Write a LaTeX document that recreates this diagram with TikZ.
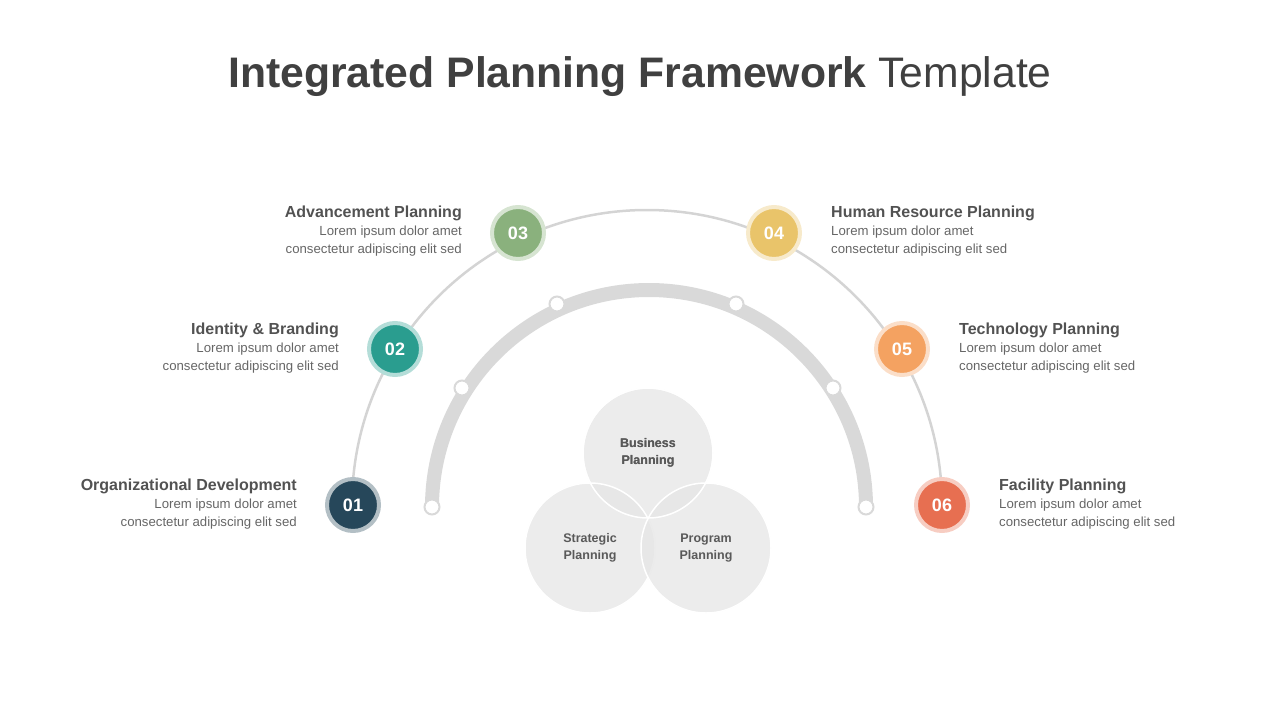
\documentclass[tikz,border=0pt]{standalone}
\usepackage{fontspec}
\setmainfont{Liberation Sans}
\begin{document}
\begin{tikzpicture}[x=1pt,y=-1pt,
 num/.style={circle,minimum size=52pt,inner sep=0pt,draw=#1!35!white,line width=4pt,fill=#1,text=white,font=\fontsize{18}{20}\selectfont\bfseries},
 ttl/.style={font=\fontsize{16}{18}\selectfont\bfseries,text=black!68,inner sep=0pt},
 bod/.style={font=\fontsize{13.2}{18}\selectfont,text=black!60,inner sep=0pt,align=#1},
 dot/.style={circle,minimum size=15pt,inner sep=0pt,fill=white,draw=black!15,line width=2pt},
 venn/.style={circle,minimum size=130pt,inner sep=0pt,fill=black!10,fill opacity=0.75,draw=white,line width=1.5pt,text opacity=1,text=black!65,font=\fontsize{12.5}{17}\selectfont\bfseries,align=center}]
\useasboundingbox (0,0) rectangle (1280,720);
\definecolor{c1}{HTML}{26475A}\definecolor{c2}{HTML}{2A9D8F}\definecolor{c3}{HTML}{8AB17D}
\definecolor{c4}{HTML}{E9C46A}\definecolor{c5}{HTML}{F4A261}\definecolor{c6}{HTML}{E76F51}
\node[font=\fontsize{42.7}{50}\selectfont,text=black!75] (title) at (640,77) {\textbf{Integrated Planning Framework} Template};
% outer arc
\draw[black!17,line width=2.5pt] (352,505) arc[start angle=180,end angle=360,radius=295];
% inner arc
\draw[black!15,line width=14pt,line cap=round] (432,507) arc[start angle=180,end angle=360,radius=217];
\foreach \n/\x/\y in {d1/432/507,d2/462/388,d3/557/304,d4/736/304,d5/833/388,d6/866/507}
 \node[dot] (\n) at (\x,\y) {};
% venn
\node[venn] (bus) at (648,453) {Business\\Planning};
\node[venn] (str) at (590,548) {Strategic\\Planning};
\node[venn] (pro) at (706,548) {Program\\Planning};
\node[venn,fill=none,draw=white] at (648,453) {Business\\Planning};
% numbers
\node[num=c1] (n1) at (353,505) {01};
\node[num=c2] (n2) at (395,349) {02};
\node[num=c3] (n3) at (518,233) {03};
\node[num=c4] (n4) at (774,233) {04};
\node[num=c5] (n5) at (902,349) {05};
\node[num=c6] (n6) at (942,505) {06};
% texts left
\node[ttl,anchor=east] (t1) at (297,486) {Organizational Development};
\node[bod=right,anchor=north east] (b1) at (297,499) {Lorem ipsum dolor amet\\consectetur adipiscing elit sed};
\node[ttl,anchor=east] (t2) at (339,330) {Identity \& Branding};
\node[bod=right,anchor=north east] (b2) at (339,343) {Lorem ipsum dolor amet\\consectetur adipiscing elit sed};
\node[ttl,anchor=east] (t3) at (462,213) {Advancement Planning};
\node[bod=right,anchor=north east] (b3) at (462,226) {Lorem ipsum dolor amet\\consectetur adipiscing elit sed};
% texts right
\node[ttl,anchor=west] (t4) at (831,213) {Human Resource Planning};
\node[bod=left,anchor=north west] (b4) at (831,226) {Lorem ipsum dolor amet\\consectetur adipiscing elit sed};
\node[ttl,anchor=west] (t5) at (959,330) {Technology Planning};
\node[bod=left,anchor=north west] (b5) at (959,343) {Lorem ipsum dolor amet\\consectetur adipiscing elit sed};
\node[ttl,anchor=west] (t6) at (999,486) {Facility Planning};
\node[bod=left,anchor=north west] (b6) at (999,499) {Lorem ipsum dolor amet\\consectetur adipiscing elit sed};
\end{tikzpicture}
\end{document}
